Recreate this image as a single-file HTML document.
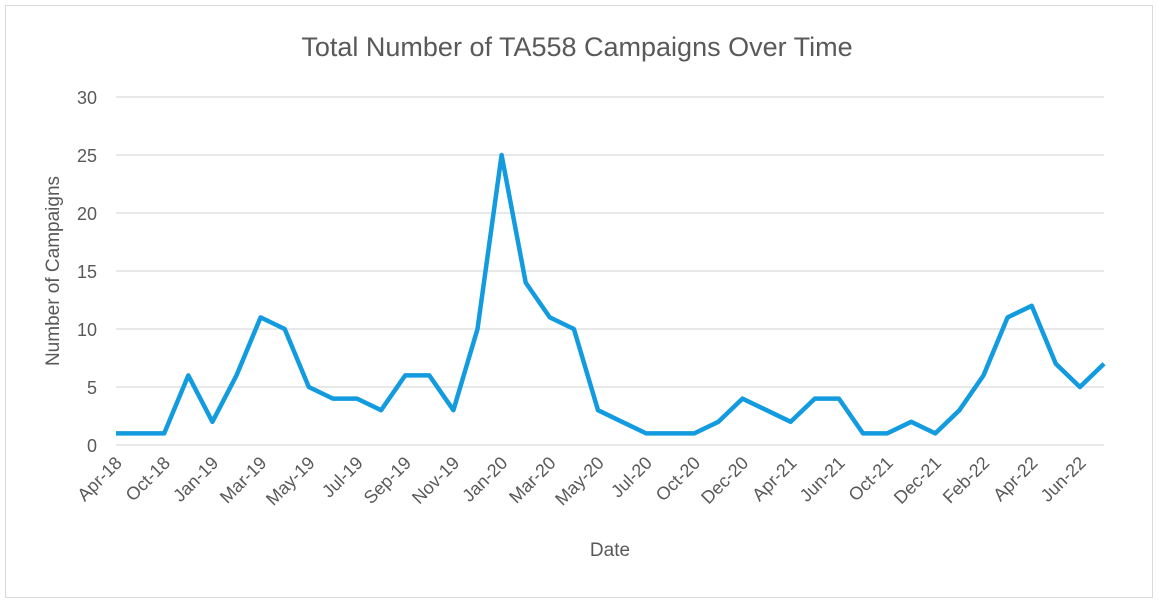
<!DOCTYPE html>
<html><head><style>body{margin:0;background:#fff}</style></head><body>
<svg width="1158" height="604" xmlns="http://www.w3.org/2000/svg" font-family="Liberation Sans, sans-serif">
<rect x="5.5" y="5.5" width="1147" height="592" fill="#fff" stroke="#d9d9d9"/>
<text x="577" y="56" text-anchor="middle" font-size="27" fill="#595959">Total Number of TA558 Campaigns Over Time</text>
<g stroke="#d9d9d9" stroke-width="1.3">
<line x1="116" x2="1104" y1="445" y2="445"/><line x1="116" x2="1104" y1="387" y2="387"/><line x1="116" x2="1104" y1="329" y2="329"/><line x1="116" x2="1104" y1="271" y2="271"/><line x1="116" x2="1104" y1="213" y2="213"/><line x1="116" x2="1104" y1="155" y2="155"/><line x1="116" x2="1104" y1="97" y2="97"/>
</g>
<g font-size="18" fill="#595959" text-anchor="end">
<text x="97" y="452">0</text><text x="97" y="394">5</text><text x="97" y="336">10</text><text x="97" y="278">15</text><text x="97" y="220">20</text><text x="97" y="162">25</text><text x="97" y="104">30</text>
</g>
<text transform="translate(59,271) rotate(-90)" text-anchor="middle" font-size="19" fill="#595959">Number of Campaigns</text>
<text x="610" y="556" text-anchor="middle" font-size="19" fill="#595959">Date</text>
<g font-size="18" fill="#595959" text-anchor="end" id="xl"></g>
<polyline id="ln" fill="none" stroke="#139be0" stroke-width="4.5" stroke-linejoin="round" points=""/>
</svg>
<script>
var d=[1,1,1,6,2,6,11,10,5,4,4,3,6,6,3,10,25,14,11,10,3,2,1,1,1,2,4,3,2,4,4,1,1,2,1,3,6,11,12,7,5,7];
var labs=["Apr-18","Oct-18","Jan-19","Mar-19","May-19","Jul-19","Sep-19","Nov-19","Jan-20","Mar-20","May-20","Jul-20","Oct-20","Dec-20","Apr-21","Jun-21","Oct-21","Dec-21","Feb-22","Apr-22","Jun-22"];
var pts=[];for(var i=0;i<d.length;i++){var x=116+i*(1104-116)/41;pts.push(x.toFixed(1)+","+(445-d[i]*11.6).toFixed(1));}
document.getElementById("ln").setAttribute("points",pts.join(" "));
var g=document.getElementById("xl"),s="";
for(var j=0;j<labs.length;j++){var x=116+2*j*(1104-116)/41+7;s+='<text transform="translate('+x.toFixed(1)+',464) rotate(-45)">'+labs[j]+'</text>';}
g.innerHTML=s;
</script>
</body></html>
